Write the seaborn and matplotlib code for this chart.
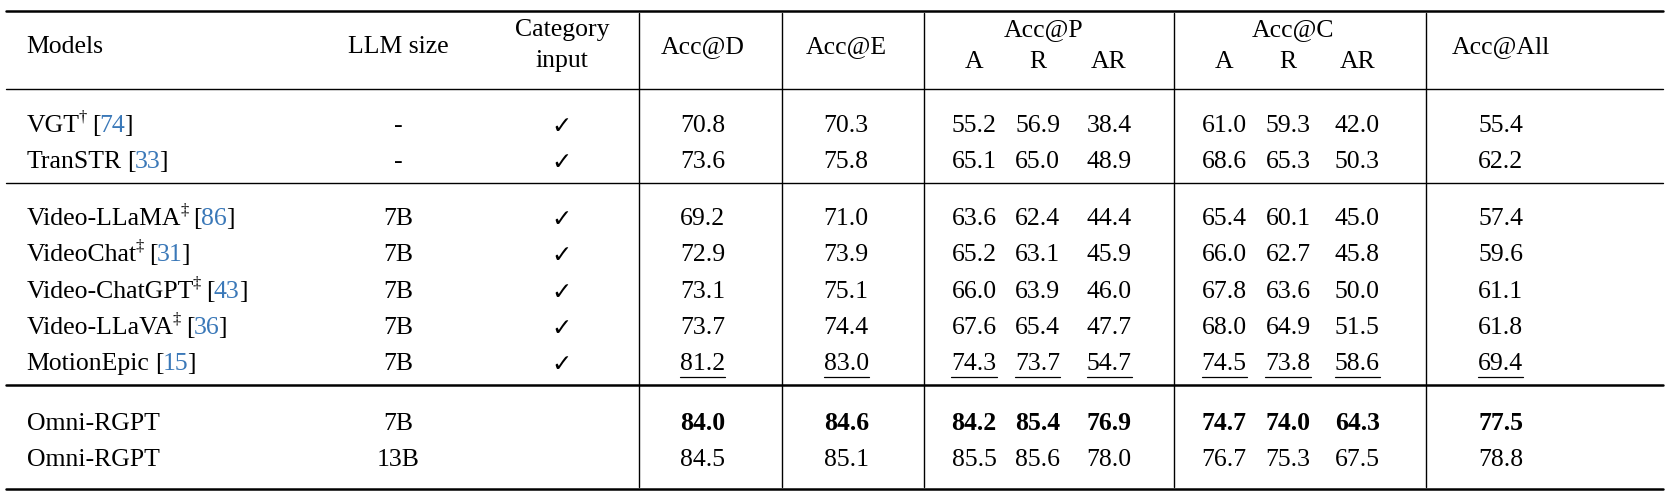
import matplotlib
matplotlib.use("Agg")
import matplotlib.pyplot as plt
import seaborn as sns

sns.set_theme(style="white")
plt.rcParams['font.family'] = ['Liberation Serif', 'DejaVu Sans']
plt.rcParams['text.color'] = 'black'

models = ["VGT", "TranSTR", "Video-LLaMA", "VideoChat", "Video-ChatGPT", "Video-LLaVA", "MotionEpic", "Omni-RGPT", "Omni-RGPT"]
marks = ["†", "", "‡", "‡", "‡", "‡", "", "", ""]
cites = ["74", "33", "86", "31", "43", "36", "15", "", ""]
sizes = ["-", "-", "7B", "7B", "7B", "7B", "7B", "7B", "13B"]
category = [True, True, True, True, True, True, True, False, False]
values = [
    [70.8, 70.3, 55.2, 56.9, 38.4, 61.0, 59.3, 42.0, 55.4],
    [73.6, 75.8, 65.1, 65.0, 48.9, 68.6, 65.3, 50.3, 62.2],
    [69.2, 71.0, 63.6, 62.4, 44.4, 65.4, 60.1, 45.0, 57.4],
    [72.9, 73.9, 65.2, 63.1, 45.9, 66.0, 62.7, 45.8, 59.6],
    [73.1, 75.1, 66.0, 63.9, 46.0, 67.8, 63.6, 50.0, 61.1],
    [73.7, 74.4, 67.6, 65.4, 47.7, 68.0, 64.9, 51.5, 61.8],
    [81.2, 83.0, 74.3, 73.7, 54.7, 74.5, 73.8, 58.6, 69.4],
    [84.0, 84.6, 84.2, 85.4, 76.9, 74.7, 74.0, 64.3, 77.5],
    [84.5, 85.1, 85.5, 85.6, 78.0, 76.7, 75.3, 67.5, 78.8],
]
underline_row = 6
bold_row = 7

W, H = 1568.0, 468.0
fig = plt.figure(figsize=(16.69, 4.98), dpi=100)
ax = fig.add_axes([0, 0, 1, 1])
ax.set_xlim(0, W); ax.set_ylim(H, 0); ax.axis("off")
FS = 18.5
blue = "#3a78b8"

col_x = [660, 795, 915, 975, 1042, 1150, 1210, 1275, 1410]
row_y = [118, 152, 206, 240, 274, 308, 342, 398, 432]

for y, lw in [(10, 1.8), (84, 1.0), (172, 1.0), (362, 1.8), (460, 1.8)]:
    ax.plot([6, 1562], [y, y], color="black", lw=lw)
for x in [600, 735, 868, 1103, 1340]:
    ax.plot([x, x], [12, 458], color="black", lw=1.0)

ax.text(25, 44, "Models", fontsize=FS, va="center", ha="left")
ax.text(374, 44, "LLM size", fontsize=FS, va="center", ha="center")
ax.text(528, 28, "Category", fontsize=FS, va="center", ha="center")
ax.text(528, 57, "input", fontsize=FS, va="center", ha="center")
ax.text(660, 44, "Acc@D", fontsize=FS, va="center", ha="center")
ax.text(795, 44, "Acc@E", fontsize=FS, va="center", ha="center")
ax.text(980, 28, "Acc@P", fontsize=FS, va="center", ha="center")
ax.text(1215, 28, "Acc@C", fontsize=FS, va="center", ha="center")
for x, s in zip(col_x[2:8], ["A", "R", "AR", "A", "R", "AR"]):
    ax.text(x, 58, s, fontsize=FS, va="center", ha="center")
ax.text(1410, 44, "Acc@All", fontsize=FS, va="center", ha="center")

fig.canvas.draw()
r = fig.canvas.get_renderer()
inv = ax.transData.inverted()

def right_edge(t):
    bb = t.get_window_extent(r)
    return inv.transform((bb.x1, bb.y0))[0]

for i, y in enumerate(row_y):
    t = ax.text(25, y, models[i], fontsize=FS, va="center", ha="left")
    x = right_edge(t)
    if marks[i]:
        t = ax.text(x - 1, y - 8, marks[i], fontsize=12, va="center", ha="left")
        x = right_edge(t)
    if cites[i]:
        t = ax.text(x + 5, y, "[", fontsize=FS, va="center", ha="left")
        x = right_edge(t)
        t = ax.text(x - 1, y, cites[i], fontsize=FS, va="center", ha="left", color=blue)
        x = right_edge(t)
        ax.text(x - 1, y, "]", fontsize=FS, va="center", ha="left")
    ax.text(374, y, sizes[i], fontsize=FS, va="center", ha="center")
    if category[i]:
        ax.text(528, y, "✓", fontsize=FS - 1, va="center", ha="center", family="DejaVu Sans")
    for j, v in enumerate(values[i]):
        t = ax.text(col_x[j], y, f"{v:.1f}", fontsize=FS, va="center", ha="center",
                    fontweight="bold" if i == bold_row else "normal")
        if i == underline_row:
            bb = t.get_window_extent(r)
            x0 = inv.transform((bb.x0, 0))[0]; x1 = inv.transform((bb.x1, 0))[0]
            ax.plot([x0, x1], [y + 12, y + 12], color="black", lw=0.9)

fig.savefig("out.png", dpi=100, facecolor="white")
